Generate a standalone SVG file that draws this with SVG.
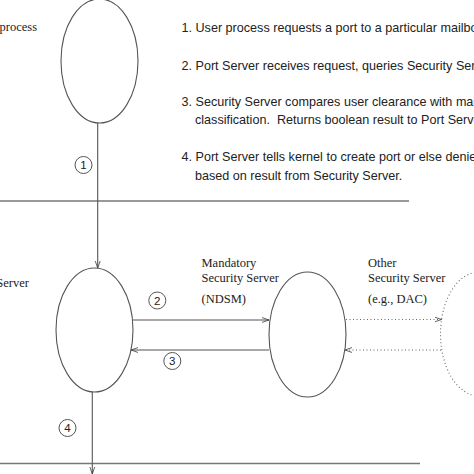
<svg xmlns="http://www.w3.org/2000/svg" width="474" height="474" viewBox="0 0 474 474">
<defs>
<marker id="ah" viewBox="0 0 10 10" refX="10" refY="5" markerWidth="7" markerHeight="7" markerUnits="userSpaceOnUse" orient="auto">
<path d="M0,1.5 L10,5 L0,8.5" fill="none" stroke="#444" stroke-width="1.2"/>
</marker>
</defs>
<style>
.node{fill:none;stroke:#555;stroke-width:1.1}
.dot{fill:none;stroke:#666;stroke-width:1.1;stroke-dasharray:1 2.5}
.ln{stroke:#555;stroke-width:1.1;fill:none}
.sep{stroke:#777;stroke-width:1.4}
.num{fill:none;stroke:#555;stroke-width:1}
.serif{font-family:"Liberation Serif","Times New Roman",serif;font-size:12.5px;fill:#222}
.sans{font-family:"Liberation Sans",Arial,sans-serif;font-size:12.6px;fill:#222}
.cn{font-family:"Liberation Sans",Arial,sans-serif;font-size:11.5px;fill:#222;text-anchor:middle}
</style>
<line class="sep" x1="0" y1="201" x2="409" y2="201"/>
<line class="sep" x1="0" y1="463.5" x2="420" y2="463.5"/>
<g id="user-process">
<ellipse class="node" cx="99.5" cy="61" rx="38.5" ry="62"/>
<text class="serif" x="37" y="31" text-anchor="end">User process</text>
</g>
<g id="port-server">
<ellipse class="node" cx="94.5" cy="330" rx="38.5" ry="62"/>
<text class="serif" x="29" y="287" text-anchor="end">Port Server</text>
</g>
<g id="ndsm">
<ellipse class="node" cx="307.5" cy="334.5" rx="38.5" ry="62.5"/>
<text class="serif" x="201.5" y="267">Mandatory</text>
<text class="serif" x="201.5" y="282">Security Server</text>
<text class="serif" x="201.5" y="303">(NDSM)</text>
</g>
<g id="other-server">
<ellipse class="dot" cx="479" cy="334" rx="38.5" ry="62"/>
<text class="serif" x="368" y="267">Other</text>
<text class="serif" x="368" y="282">Security Server</text>
<text class="serif" x="368" y="303">(e.g., DAC)</text>
</g>
<g id="legend">
<text class="sans" x="181.5" y="32">1. User process requests a port to a particular mailbox.</text>
<text class="sans" x="181.5" y="70">2. Port Server receives request, queries Security Server.</text>
<text class="sans" x="181.5" y="106">3. Security Server compares user clearance with mailbox</text>
<text class="sans" x="195" y="124">classification.&#160; Returns boolean result to Port Server.</text>
<text class="sans" x="181.5" y="161">4. Port Server tells kernel to create port or else denies it</text>
<text class="sans" x="195" y="180">based on result from Security Server.</text>
</g>
<g id="connectors">
<line class="ln" x1="97.7" y1="123" x2="97.7" y2="268" marker-end="url(#ah)"/>
<line class="ln" x1="133" y1="320" x2="269" y2="320" marker-end="url(#ah)"/>
<line class="ln" x1="269" y1="350" x2="131" y2="350" marker-end="url(#ah)"/>
<line class="dot" x1="346" y1="319.5" x2="441.5" y2="319.5" marker-end="url(#ah)"/>
<line class="dot" x1="441" y1="350" x2="345" y2="350" marker-end="url(#ah)"/>
<line class="ln" x1="92.3" y1="392" x2="92.3" y2="474" marker-end="url(#ah)"/>
<circle class="num" cx="83.5" cy="165" r="8.5"/>
<text class="cn" x="83.5" y="169">1</text>
<circle class="num" cx="157.3" cy="300.5" r="8.5"/>
<text class="cn" x="157.3" y="304.5">2</text>
<circle class="num" cx="172.3" cy="361" r="8.5"/>
<text class="cn" x="172.3" y="365">3</text>
<circle class="num" cx="67.5" cy="428" r="8.5"/>
<text class="cn" x="67.5" y="432">4</text>
</g>
</svg>
